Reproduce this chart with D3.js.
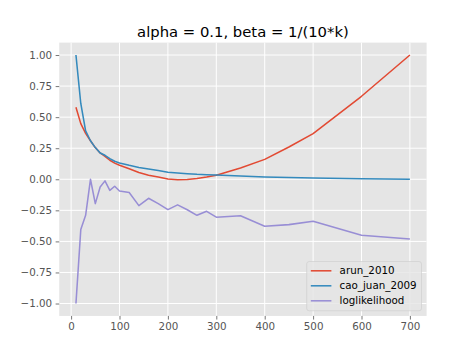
<!DOCTYPE html>
<html><head><meta charset="utf-8">
<script src="https://cdn.jsdelivr.net/npm/d3@7"></script>
<style>body{margin:0;background:#fff}</style>
</head><body><svg id="c" width="474" height="355"></svg>
<script>
const steps  = [10,20,30,40,50,60,70,80,90,100,120,140,160,180,200,220,240,260,280,300,350,400,450,500,600,700];
const arun   = [0.58,0.448,0.37,0.31,0.255,0.212,0.185,0.153,0.13,0.113,0.085,0.055,0.033,0.018,0.003,-0.003,-0.002,0.006,0.018,0.033,0.09,0.16,0.26,0.368,0.668,1.0];
const cao    = [1.0,0.61,0.39,0.31,0.255,0.212,0.193,0.166,0.145,0.131,0.112,0.095,0.082,0.07,0.056,0.05,0.045,0.04,0.037,0.034,0.026,0.019,0.014,0.01,0.005,0.0];
const loglik = [-1.0,-0.405,-0.29,0.0,-0.196,-0.062,-0.013,-0.089,-0.056,-0.094,-0.107,-0.212,-0.153,-0.196,-0.244,-0.206,-0.245,-0.29,-0.258,-0.305,-0.293,-0.378,-0.365,-0.338,-0.451,-0.481];
const seriesNames = ["arun_2010","cao_juan_2009","loglikelihood"];
const seriesColors = ["#E24A33","#348ABD","#988ED5"];
const xTicks = [0,100,200,300,400,500,600,700];
const yTicks = [-1.0,-0.75,-0.5,-0.25,0.0,0.25,0.5,0.75,1.0];
const titleText = "alpha = 0.1, beta = 1/(10*k)";

const W = 474, H = 355;
const L = 59.25, R = 426.6, T = 42.6, B = 315.95;
const font = "'DejaVu Sans', sans-serif";
const fs = 10.3;

const svg = d3.select("#c");
const xmin = d3.min(steps), xmax = d3.max(steps);
const xpad = (xmax - xmin) * 0.05;
const allY = arun.concat(cao, loglik);
const ymin = d3.min(allY), ymax = d3.max(allY);
const ypad = (ymax - ymin) * 0.05;
const x = d3.scaleLinear().domain([xmin - xpad, xmax + xpad]).range([L, R]);
const y = d3.scaleLinear().domain([ymin - ypad, ymax + ypad]).range([B, T]);

svg.append("rect").attr("x", L).attr("y", T).attr("width", R - L).attr("height", B - T).attr("fill", "#E5E5E5");

// grid
const g = svg.append("g");
g.selectAll(".gx").data(xTicks).enter().append("line")
  .attr("x1", d => x(d)).attr("x2", d => x(d)).attr("y1", T).attr("y2", B)
  .attr("stroke", "#fff").attr("stroke-width", 1);
g.selectAll(".gy").data(yTicks).enter().append("line")
  .attr("y1", d => y(d)).attr("y2", d => y(d)).attr("x1", L).attr("x2", R)
  .attr("stroke", "#fff").attr("stroke-width", 1);

const fmtY = d => d3.format(".2f")(d).replace("-", "\u2212");

const xAxis = svg.append("g").attr("transform", `translate(0,${B})`)
  .call(d3.axisBottom(x).tickValues(xTicks).tickSize(3.6).tickPadding(3.6).tickFormat(d3.format("d")));
const yAxis = svg.append("g").attr("transform", `translate(${L},0)`)
  .call(d3.axisLeft(y).tickValues(yTicks).tickSize(3.6).tickPadding(3.6).tickFormat(fmtY));
[xAxis, yAxis].forEach(a => {
  a.select(".domain").remove();
  a.selectAll("line").attr("stroke", "#555555").attr("stroke-width", 0.8);
  a.selectAll("text").attr("fill", "#555555").style("font-family", font).style("font-size", fs + "px");
});

const line = d3.line().x((d, i) => x(steps[i])).y(d => y(d));
[arun, cao, loglik].forEach((s, k) => {
  svg.append("path").datum(s).attr("d", line).attr("fill", "none")
    .attr("stroke", seriesColors[k]).attr("stroke-width", 1.54)
    .attr("stroke-linejoin", "round").attr("stroke-linecap", "butt");
});

svg.append("text").attr("x", (L + R) / 2).attr("y", T - 6).attr("text-anchor", "middle")
  .style("font-family", font).style("font-size", "14.8px").attr("fill", "#000").text(titleText);

// legend
const lg = svg.append("g");
const lx = 306.7, ly = 261.5, lw = 421.5 - 306.7, lh = 310.8 - 261.5;
lg.append("rect").attr("x", lx).attr("y", ly).attr("width", lw).attr("height", lh).attr("rx", 2.5)
  .attr("fill", "#E5E5E5").attr("fill-opacity", 0.8).attr("stroke", "#CCCCCC").attr("stroke-opacity", 0.8).attr("stroke-width", 0.8);
seriesNames.forEach((n, k) => {
  const yy = ly + 9.3 + k * 15.0;
  lg.append("line").attr("x1", lx + 4.1).attr("x2", lx + 4.1 + 20.6).attr("y1", yy).attr("y2", yy)
    .attr("stroke", seriesColors[k]).attr("stroke-width", 1.54);
  lg.append("text").attr("x", lx + 4.1 + 20.6 + 8.2).attr("y", yy).attr("dy", "0.35em")
    .style("font-family", font).style("font-size", fs + "px").attr("fill", "#000").text(n);
});
</script></body></html>
